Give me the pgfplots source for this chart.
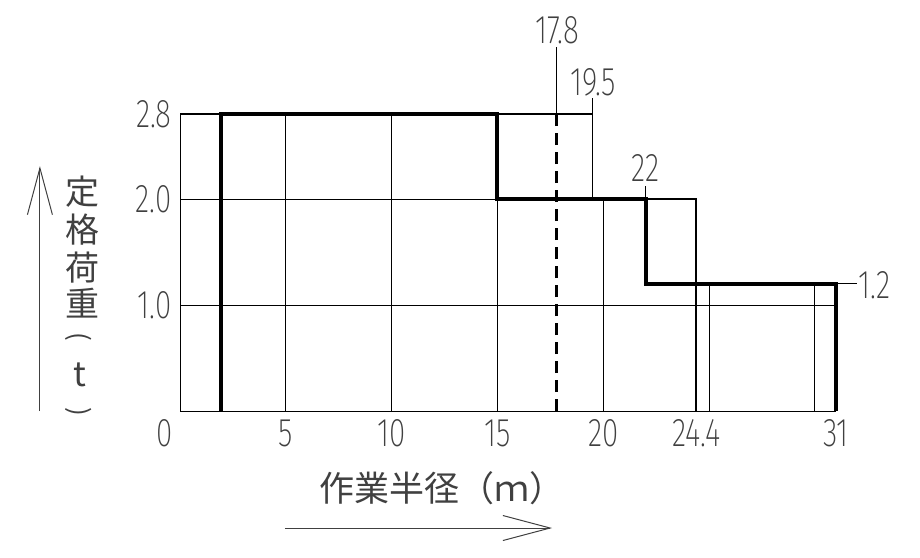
\documentclass[border=0pt]{standalone}
\usepackage{pgfplots}
\pgfplotsset{compat=1.18}
\usepackage{fontspec}
\setmainfont{Fira Sans ExtraLight}[FakeStretch=0.74]
\newfontfamily\jp{Noto Sans CJK JP}
\newcommand\lbl{\fontsize{20}{22}\selectfont}
\newcommand\jpl{\jp\fontsize{17}{18}\selectfont}
\tikzset{ylab/.style={font=\jpl, text=black!75, inner sep=0pt},
  yarc/.style={font=\jp\fontsize{13}{13}\selectfont, text=black!75, inner sep=0pt, rotate=-90}}
\begin{document}
\begin{tikzpicture}
\begin{axis}[
  x=10.58pt, y=52.98pt,
  xmin=0, xmax=31, ymin=0, ymax=2.8,
  axis lines=left, axis line style={-, line width=0.5pt},
  major tick length=0pt,
  xtick={5,10,15,20,24.4,31}, xticklabels={5,10,15,20,24.4,31},
  ytick={1,2,2.8}, yticklabels={1.0,2.0,2.8},
  tick label style={font=\lbl, text=black!75},
  xticklabel style={anchor=center, yshift=-11pt},
  yticklabel style={anchor=east, inner sep=0pt, xshift=-4pt},
  clip=false,
  grd/.style={black, line width=0.5pt, no marks},
]
% grid pieces
\addplot[grd] coordinates {(0,1.0) (31,1.0)};
\addplot[grd] coordinates {(0,2.0) (19.5,2.0)};
\addplot[grd] coordinates {(5,0) (5,2.8)};
\addplot[grd] coordinates {(10,0) (10,2.8)};
\addplot[grd] coordinates {(15,0) (15,2.0)};
\addplot[grd] coordinates {(20,0) (20,2.0)};
\addplot[grd] coordinates {(25,0) (25,1.2)};
\addplot[grd] coordinates {(30,0) (30,1.2)};
% leaders
\addplot[grd] coordinates {(17.8,2.8) (17.8,3.435)};
\addplot[grd] coordinates {(19.5,2.8) (19.5,2.954)};
\addplot[grd] coordinates {(22,2.0) (22,2.12)};
\addplot[grd] coordinates {(31,1.2) (32.0,1.2)};
% thin capacity line
\addplot[black, line width=0.85pt, no marks, line join=miter] coordinates {
  (0,2.8) (19.5,2.8) (19.5,2.0) (24.4,2.0) (24.4,0)};
% thick capacity line
\addplot[black, line width=2pt, no marks, line join=miter] coordinates {
  (1.95,0) (1.95,2.8) (15,2.8) (15,2.0) (22,2.0) (22,1.2) (31,1.2) (31,0)};
% dashed line at 17.8
\addplot[black, line width=1.7pt, no marks, dash pattern=on 6pt off 3.5pt] coordinates {
  (17.8,0) (17.8,2.8)};

\node[font=\lbl, text=black!75] at (-0.71,-0.208) {0};
\node[font=\lbl, text=black!75] at (17.82,3.596) {17.8};
\node[font=\lbl, text=black!75] at (19.52,3.105) {19.5};
\node[font=\lbl, text=black!75] at (21.98,2.293) {22};
\node[font=\lbl, text=black!75, anchor=west, inner sep=0pt] at (32.04,1.19) {1.2};

% vertical y label
\node[ylab] at (-4.63,2.067) {定};
\node[ylab] at (-4.63,1.708) {格};
\node[ylab] at (-4.63,1.350) {荷};
\node[ylab] at (-4.63,1.019) {重};
\node[yarc] at (-4.80,0.698) {(};
\node[ylab] at (-4.73,0.340) {t};
\node[yarc] at (-4.80,-0.009) {)};

\node[font=\jp\fontsize{17.5}{20}\selectfont, text=black!75] at (12.36,-0.727) {作業半径（ｍ）};

\draw[line width=0.5pt, black!75] (-6.62,0) -- (-6.62,2.293);
\draw[line width=0.5pt, black!75] (-7.21,1.853) -- (-6.62,2.293) -- (-6.03,1.853);
\draw[line width=0.5pt, black!75] (4.96,-1.104) -- (17.49,-1.104);
\draw[line width=0.5pt, black!75] (15.26,-0.986) -- (17.49,-1.104) -- (15.26,-1.222);

\coordinate (tl) at (-8.507,3.879);
\coordinate (br) at (34.97,-1.378);
\end{axis}
\pgfresetboundingbox
\path[use as bounding box] (tl) rectangle (br);
\end{tikzpicture}
\end{document}
